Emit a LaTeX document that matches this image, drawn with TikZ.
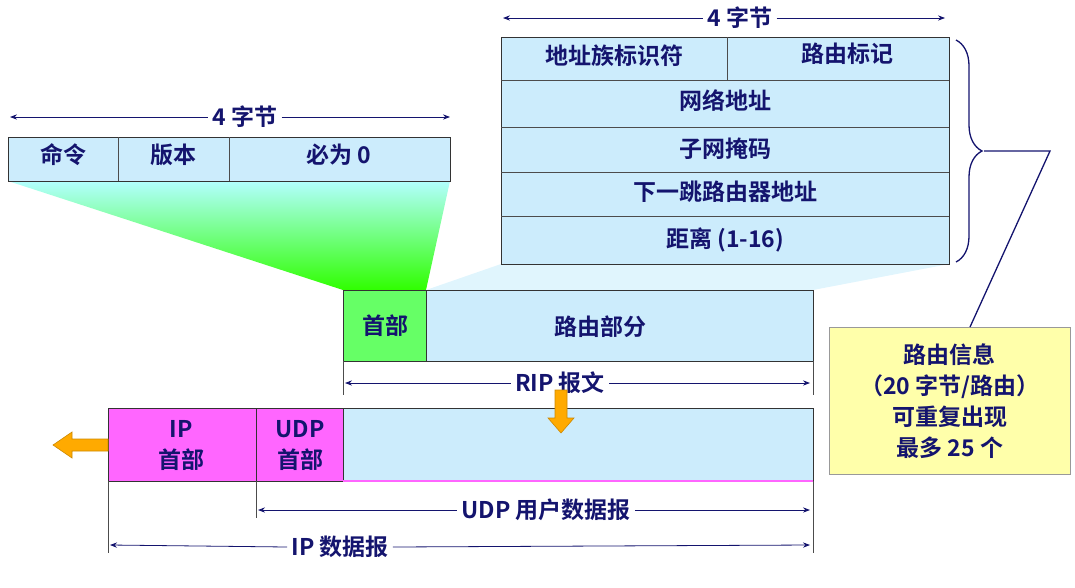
\documentclass[tikz,border=0pt]{standalone}
\usepackage{fontspec}
\setmainfont{Noto Sans CJK SC}[BoldFont={* Bold}]
\usetikzlibrary{arrows.meta,decorations.pathreplacing,shadings}
\definecolor{tx}{RGB}{20,20,110}
\definecolor{lb}{RGB}{204,236,252}
\definecolor{gr}{RGB}{102,255,102}
\definecolor{mg}{RGB}{255,102,255}
\definecolor{yl}{RGB}{255,255,170}
\definecolor{og}{RGB}{255,170,0}
\tikzset{
 bx/.style={draw=black!80,fill=lb,line width=0.8pt},
 t/.style={text=tx,font=\bfseries\fontsize{23}{25}\selectfont,inner sep=0pt},
 dim/.style={draw=tx,line width=0.8pt},
 thin/.style={draw=black!70,line width=0.6pt}
}
\begin{document}
\begin{tikzpicture}[x=1pt,y=-1pt]
\useasboundingbox (0,0) rectangle (1075,587);
% gradients
\shade[top color=cyan!30,bottom color=green!75!lime] (8,181) -- (450,181) -- (426,290) -- (343,290) -- cycle;
\fill[cyan!12] (501,264) -- (949,264) -- (813,290) -- (426,290) -- cycle;
% top-left header
\draw[bx] (8,137) rectangle (450,181);
\draw[thin] (118,137) -- (118,181) (229,137) -- (229,181);
\node[t] (c1) at (63,155) {命令};
\node[t] (c2) at (173,155) {版本};
\node[t] (c3) at (339,155) {必为 0};
\node[t,fill=white,inner sep=4pt] (l1) at (245,117) {4 字节};
\draw[dim,{Stealth[length=7pt]}-] (10,117) -- (l1.west);
\draw[dim,-{Stealth[length=7pt]}] (l1.east) -- (450,117);
% right box
\draw[bx] (501,37) rectangle (949,264);
\draw[thin] (501,80) -- (949,80) (501,127) -- (949,127) (501,172) -- (949,172) (501,216) -- (949,216) (727,37) -- (727,80);
\node[t] at (614,56) {地址族标识符};
\node[t] at (847,54) {路由标记};
\node[t] at (725,101) {网络地址};
\node[t] at (725,149) {子网掩码};
\node[t] at (725,192) {下一跳路由器地址};
\node[t] at (725,240) {距离 (1-16)};
\node[t,fill=white,inner sep=4pt] (l2) at (740,18) {4 字节};
\draw[dim,{Stealth[length=7pt]}-] (503,18) -- (l2.west);
\draw[dim,-{Stealth[length=7pt]}] (l2.east) -- (945,18);
% brace
\draw[tx,line width=1.3pt,decorate,decoration={brace,amplitude=26pt}] (956,40) -- (956,262);
\node[draw=black!40,fill=yl,minimum width=241pt,minimum height=147pt,anchor=north west,inner sep=0pt] (y) at (829,327) {};
\node[t,align=center,font=\bfseries\fontsize{23}{31}\selectfont] at (y.center) {路由信息\\（20 字节/路由）\\可重复出现\\最多 25 个};
\draw[tx,line width=1.3pt] (984,151) -- (1050,151) -- (970,327);
% RIP box
\draw[bx] (343,290) rectangle (813,361);
\draw[bx,fill=gr] (343,290) rectangle (426,361);
\node[t] at (385,326) {首部};
\node[t] at (600,327) {路由部分};
\draw[thin] (343,361) -- (343,395) (813,361) -- (813,395);
\node[t,fill=white,inner sep=4pt] (l3) at (560,383) {RIP 报文};
\draw[dim,{Stealth[length=7pt]}-] (345,383) -- (l3.west);
\draw[dim,-{Stealth[length=7pt]}] (l3.east) -- (810,383);
% UDP box
\draw[bx] (108,408) rectangle (813,481);
\draw[bx,fill=mg] (108,408) rectangle (256,481);
\draw[bx,fill=mg] (256,408) rectangle (343,481);
\draw[mg,line width=1.2pt] (343,481) -- (813,481);
\node[t,align=center,font=\bfseries\fontsize{23}{31}\selectfont] at (181,446) {IP\\首部};
\node[t,align=center,font=\bfseries\fontsize{23}{31}\selectfont] at (300,446) {UDP\\首部};
% orange arrows
\draw[og!80!black,fill=og,line width=0.6pt] (555,390) -- (567,390) -- (567,418) -- (574,418) -- (561,433) -- (548,418) -- (555,418) -- cycle;
\draw[og!80!black,fill=og,line width=0.6pt] (108,439) -- (72,439) -- (72,432) -- (53,445) -- (72,458) -- (72,451) -- (108,451) -- cycle;
% dims below
\draw[thin] (256,481) -- (256,518) (108,481) -- (108,553) (813,481) -- (813,553);
\node[t,fill=white,inner sep=4pt] (l4) at (546,510) {UDP 用户数据报};
\draw[dim,{Stealth[length=7pt]}-] (258,510) -- (l4.west);
\draw[dim,-{Stealth[length=7pt]}] (l4.east) -- (810,510);
\node[t,fill=white,inner sep=4pt] (l5) at (340,547) {IP 数据报};
\draw[dim,{Stealth[length=7pt]}-] (110,545) -- (l5.west);
\draw[dim,-{Stealth[length=7pt]}] (l5.east) -- (810,545);
\end{tikzpicture}
\end{document}
